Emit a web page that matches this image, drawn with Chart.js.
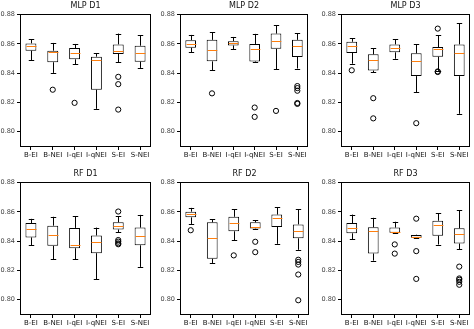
<!DOCTYPE html>
<html>
<head>
<meta charset="utf-8">
<script src="https://cdn.jsdelivr.net/npm/chart.js@4.4.1/dist/chart.umd.min.js"></script>
<style>
  html, body { margin: 0; padding: 0; background: #fff; }
  body { position: relative; width: 474px; height: 329px; overflow: hidden; }
  canvas { position: absolute; }
</style>
</head>
<body>
<script>
/* box plot grid - 2x3 panels, boxes as floating bars, whiskers/medians via plugin */

const methods = ['B-EI', 'B-NEI', 'I-qEI', 'I-qNEI', 'S-EI', 'S-NEI'];
const yTicks = [0.80, 0.82, 0.84, 0.86, 0.88];

// each row: [whisker low, q1, median, q3, whisker high]
const mlpD1 = [
  [0.8490, 0.8554, 0.8588, 0.8604, 0.8631],
  [0.8402, 0.8475, 0.8543, 0.8554, 0.8607],
  [0.8461, 0.8495, 0.8536, 0.8572, 0.8600],
  [0.8156, 0.8287, 0.8490, 0.8513, 0.8536],
  [0.8475, 0.8532, 0.8554, 0.8597, 0.8671],
  [0.8436, 0.8479, 0.8540, 0.8588, 0.8660]
];
const mlpD1Fliers = [[], [0.8287], [0.8197], [], [0.8375, 0.8325, 0.8151], []];

const mlpD2 = [
  [0.8543, 0.8574, 0.8600, 0.8626, 0.8662],
  [0.8420, 0.8481, 0.8558, 0.8628, 0.8680],
  [0.8565, 0.8590, 0.8608, 0.8619, 0.8648],
  [0.8476, 0.8480, 0.8565, 0.8600, 0.8669],
  [0.8427, 0.8567, 0.8621, 0.8671, 0.8728],
  [0.8432, 0.8511, 0.8585, 0.8628, 0.8673]
];
const mlpD2Fliers = [[], [0.8262], [], [0.8165, 0.8101], [0.8142], [0.8312, 0.8298, 0.8280, 0.8196, 0.8190]];

const mlpD3 = [
  [0.8465, 0.8538, 0.8586, 0.8615, 0.8640],
  [0.8405, 0.8418, 0.8488, 0.8529, 0.8570],
  [0.8499, 0.8543, 0.8570, 0.8597, 0.8631],
  [0.8269, 0.8380, 0.8486, 0.8536, 0.8597],
  [0.8416, 0.8513, 0.8565, 0.8579, 0.8660],
  [0.8122, 0.8380, 0.8536, 0.8597, 0.8743]
];
const mlpD3Fliers = [[0.8420], [0.8229, 0.8091], [], [0.8058], [0.8705, 0.8412, 0.8408], []];

const rfD1 = [
  [0.8372, 0.8426, 0.8482, 0.8524, 0.8553],
  [0.8278, 0.8368, 0.8444, 0.8506, 0.8567],
  [0.8276, 0.8352, 0.8374, 0.8491, 0.8571],
  [0.8139, 0.8318, 0.8392, 0.8439, 0.8493],
  [0.8462, 0.8480, 0.8502, 0.8529, 0.8571],
  [0.8224, 0.8372, 0.8437, 0.8493, 0.8580]
];
const rfD1Fliers = [[], [], [], [], [0.8603, 0.8408, 0.8397, 0.8385, 0.8379], []];

const rfD2 = [
  [0.8518, 0.8563, 0.8589, 0.8602, 0.8628],
  [0.8251, 0.8280, 0.8425, 0.8529, 0.8551],
  [0.8405, 0.8468, 0.8524, 0.8567, 0.8617],
  [0.8484, 0.8486, 0.8500, 0.8529, 0.8545],
  [0.8382, 0.8497, 0.8556, 0.8582, 0.8634],
  [0.8341, 0.8420, 0.8472, 0.8515, 0.8619]
];
const rfD2Fliers = [[0.8475], [], [0.8303], [0.8396, 0.8325], [], [0.8273, 0.8258, 0.8240, 0.8172, 0.7996]];

const rfD3 = [
  [0.8413, 0.8454, 0.8488, 0.8524, 0.8582],
  [0.8267, 0.8316, 0.8472, 0.8495, 0.8560],
  [0.8455, 0.8458, 0.8460, 0.8493, 0.8533],
  [0.8421, 0.8423, 0.8427, 0.8443, 0.8445],
  [0.8377, 0.8438, 0.8513, 0.8540, 0.8592],
  [0.8344, 0.8384, 0.8447, 0.8488, 0.8610]
];
const rfD3Fliers = [[], [], [0.8378, 0.8315], [0.8554, 0.8332, 0.8142], [], [0.8226, 0.8145, 0.8136, 0.8122, 0.8102]];

const panels = [
  { title: 'MLP D1', stats: mlpD1, fliers: mlpD1Fliers, area: [20, 14, 154, 147] },
  { title: 'MLP D2', stats: mlpD2, fliers: mlpD2Fliers, area: [180, 14, 311, 147] },
  { title: 'MLP D3', stats: mlpD3, fliers: mlpD3Fliers, area: [341, 14, 473, 147] },
  { title: 'RF D1', stats: rfD1, fliers: rfD1Fliers, area: [20, 182, 154, 315] },
  { title: 'RF D2', stats: rfD2, fliers: rfD2Fliers, area: [180, 182, 312, 315] },
  { title: 'RF D3', stats: rfD3, fliers: rfD3Fliers, area: [341, 182, 473, 315] }
];

const LEFT = 30, TOP = 14, BOTTOM = 16, RIGHT = 2;

Chart.defaults.font.family = "'DejaVu Sans', sans-serif";
Chart.defaults.color = '#222';

// whiskers, caps, medians, frame and title
const boxPlotExtras = {
  id: 'boxPlotExtras',
  afterDatasetsDraw(chart, args, opts) {
    const { ctx, chartArea, scales: { x, y } } = chart;
    const bars = chart.getDatasetMeta(0).data;
    ctx.save();
    ctx.lineWidth = 1;
    opts.stats.forEach((s, i) => {
      const cx = Math.round(x.getPixelForValue(i)) + 0.5;
      const half = bars[i].width / 2;
      const capHalf = half / 2;
      const yLo = y.getPixelForValue(s[0]);
      const yQ1 = y.getPixelForValue(s[1]);
      const yMed = y.getPixelForValue(s[2]);
      const yQ3 = y.getPixelForValue(s[3]);
      const yHi = y.getPixelForValue(s[4]);
      ctx.strokeStyle = '#000';
      ctx.beginPath();
      ctx.moveTo(cx, yQ1); ctx.lineTo(cx, yLo);
      ctx.moveTo(cx, yQ3); ctx.lineTo(cx, yHi);
      ctx.moveTo(cx - capHalf, Math.round(yLo) + 0.5); ctx.lineTo(cx + capHalf, Math.round(yLo) + 0.5);
      ctx.moveTo(cx - capHalf, Math.round(yHi) + 0.5); ctx.lineTo(cx + capHalf, Math.round(yHi) + 0.5);
      ctx.stroke();
      ctx.strokeStyle = '#ff7f0e';
      ctx.beginPath();
      ctx.moveTo(cx - half + 0.5, Math.round(yMed) + 0.5);
      ctx.lineTo(cx + half - 0.5, Math.round(yMed) + 0.5);
      ctx.stroke();
    });
    ctx.strokeStyle = '#000';
    ctx.strokeRect(chartArea.left + 0.5, chartArea.top + 0.5,
      chartArea.right - chartArea.left - 1, chartArea.bottom - chartArea.top - 1);
    ctx.fillStyle = '#111';
    ctx.font = "8px 'DejaVu Sans', sans-serif";
    ctx.textAlign = 'center';
    ctx.textBaseline = 'middle';
    ctx.fillText(opts.title, (chartArea.left + chartArea.right) / 2, chartArea.top - 8);
    ctx.restore();
  }
};

panels.forEach(p => {
  const [l, t, r, b] = p.area;
  const canvas = document.createElement('canvas');
  canvas.width = r - l + LEFT + RIGHT;
  canvas.height = b - t + TOP + BOTTOM;
  canvas.style.left = (l - LEFT) + 'px';
  canvas.style.top = (t - TOP) + 'px';
  document.body.appendChild(canvas);

  const flierPoints = [];
  p.fliers.forEach((vals, i) => vals.forEach(v => flierPoints.push({ x: methods[i], y: v })));

  new Chart(canvas, {
    type: 'bar',
    data: {
      labels: methods,
      datasets: [
        {
          data: p.stats.map(s => [s[1], s[3]]),
          backgroundColor: '#fff',
          borderColor: '#000',
          borderWidth: 1,
          borderSkipped: false,
          barPercentage: 0.5,
          categoryPercentage: 1
        },
        {
          type: 'line',
          data: flierPoints,
          showLine: false,
          pointRadius: 2.6,
          pointBorderWidth: 1,
          pointBorderColor: '#000',
          pointBackgroundColor: 'rgba(0,0,0,0)'
        }
      ]
    },
    options: {
      responsive: false,
      animation: false,
      devicePixelRatio: 1,
      layout: { padding: { top: TOP, right: RIGHT, left: 0, bottom: 0 } },
      plugins: {
        legend: { display: false },
        tooltip: { enabled: false },
        boxPlotExtras: { stats: p.stats, title: p.title }
      },
      scales: {
        x: {
          offset: true,
          grid: { display: true, drawOnChartArea: false, offset: false, tickLength: 3, tickColor: '#000' },
          border: { display: false },
          ticks: { font: { size: 7 }, padding: 1, maxRotation: 0, autoSkip: false, color: '#111' },
          afterFit: s => { s.height = BOTTOM; }
        },
        y: {
          min: 0.7895,
          max: 0.8805,
          afterBuildTicks: s => { s.ticks = yTicks.map(v => ({ value: v })); },
          grid: { display: true, drawOnChartArea: false, tickLength: 3, tickColor: '#000' },
          border: { display: false },
          ticks: { font: { size: 6.5 }, padding: 2, color: '#444', callback: v => v.toFixed(2) },
          afterFit: s => { s.width = LEFT; }
        }
      }
    },
    plugins: [boxPlotExtras]
  });
});
</script>
</body>
</html>
